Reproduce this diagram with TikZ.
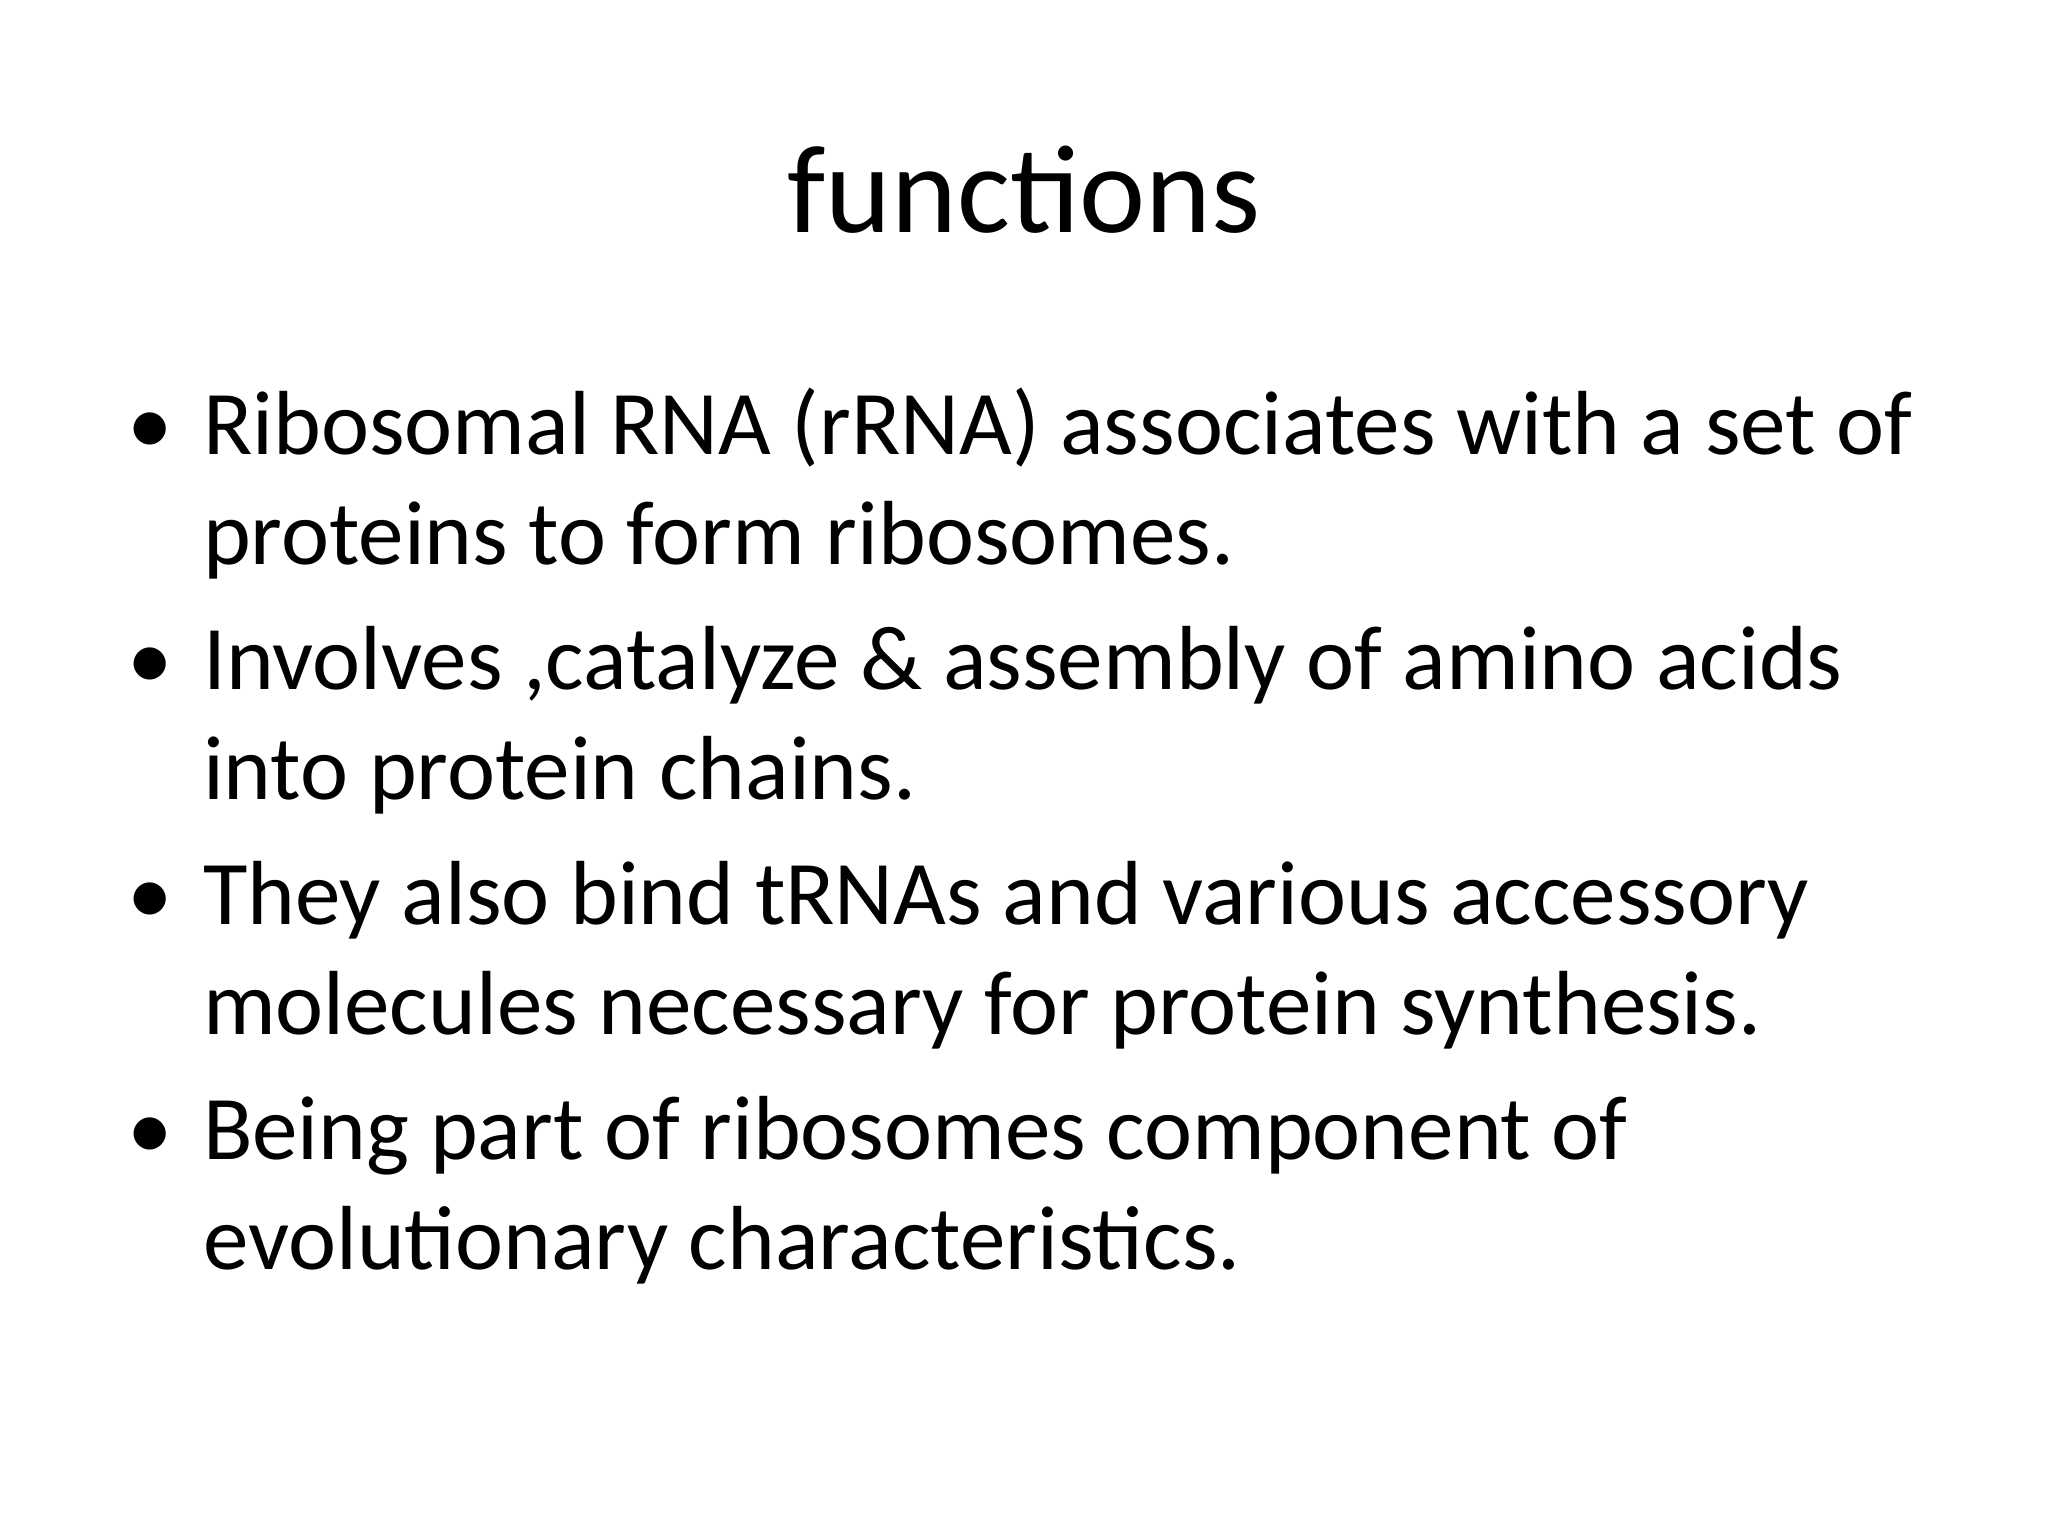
\documentclass[tikz,border=0pt]{standalone}
\usepackage{fontspec}
\setmainfont{Carlito}
\begin{document}
\begin{tikzpicture}[x=1pt,y=1pt,
  ln/.style={anchor=base west,inner sep=0pt,font=\fontsize{32}{38}\selectfont},
  bul/.style={anchor=base,inner sep=0pt,font=\fontsize{32}{38}\selectfont}]
\useasboundingbox[fill=white] (0,0) rectangle (720,-540);
\node[anchor=base,inner sep=0pt,font=\fontsize{44}{52}\selectfont] (title) at (360,-81.7) {functions};
\foreach \y/\t [count=\i] in {159.8/{Ribosomal RNA (rRNA) associates with a set of},
  198.3/{proteins to form ribosomes.},
  242.4/{Involves ,catalyze \& assembly of amino acids},
  281.0/{into protein chains.},
  325.1/{They also bind tRNAs and various accessory},
  363.6/{molecules necessary for protein synthesis.},
  407.7/{Being part of ribosomes component of},
  446.3/{evolutionary characteristics.}}
  \node[ln] (l\i) at (71.2,-\y) {\t};
\foreach \y [count=\i] in {159.8,242.4,325.1,407.7}
  \node[bul] (b\i) at (52.8,-\y) {•};
\end{tikzpicture}
\end{document}
